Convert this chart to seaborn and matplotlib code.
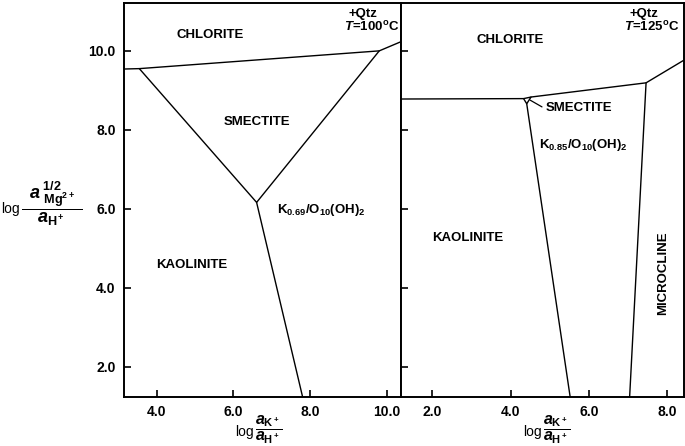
import pandas as pd
import seaborn as sns
import matplotlib.pyplot as plt

# phase boundaries, T = 100 C
left_chl_x = [3.15, 3.55, 9.81, 10.37]
left_chl_y = [9.54, 9.55, 10.0, 10.23]
left_sme_x = [3.55, 6.61, 9.81]
left_sme_y = [9.55, 6.16, 10.0]
left_kao_x = [6.61, 7.81]
left_kao_y = [6.16, 1.23]

# T = 125 C
right_chl_x = [1.19, 4.33, 4.52, 7.46, 8.42]
right_chl_y = [8.78, 8.79, 8.83, 9.19, 9.76]
right_sme_x = [4.33, 4.41, 4.52]
right_sme_y = [8.79, 8.66, 8.83]
right_kao_x = [4.41, 5.52]
right_kao_y = [8.66, 1.23]
right_mic_x = [7.46, 7.04]
right_mic_y = [9.19, 1.23]

left_xticks = [4.0, 6.0, 8.0, 10.0]
right_xticks = [2.0, 4.0, 6.0, 8.0]
yticks = [2.0, 4.0, 6.0, 8.0, 10.0]


def segs(*pairs):
    rows = []
    for i, (xs, ys) in enumerate(pairs):
        for j, (x, y) in enumerate(zip(xs, ys)):
            rows.append({'seg': i, 'order': j, 'x': x, 'y': y})
    return pd.DataFrame(rows)


left = segs((left_chl_x, left_chl_y), (left_sme_x, left_sme_y), (left_kao_x, left_kao_y))
right = segs((right_chl_x, right_chl_y), (right_sme_x, right_sme_y),
             (right_kao_x, right_kao_y), (right_mic_x, right_mic_y))

sns.set_style('ticks')
plt.rcParams['font.family'] = ['Liberation Sans', 'DejaVu Sans']
plt.rcParams['text.color'] = 'black'
plt.rcParams['xtick.color'] = 'black'
plt.rcParams['ytick.color'] = 'black'
plt.rcParams['axes.edgecolor'] = 'black'
plt.rcParams['mathtext.fontset'] = 'custom'
plt.rcParams['mathtext.rm'] = 'Liberation Sans:bold'
plt.rcParams['mathtext.it'] = 'Liberation Sans:italic:bold'
plt.rcParams['mathtext.bf'] = 'Liberation Sans:bold'

fig = plt.figure(figsize=(6.85, 4.46), dpi=100)
ax1 = fig.add_axes([0.181, 0.110, 0.404, 0.883])
ax2 = fig.add_axes([0.585, 0.110, 0.413, 0.883])

for ax, df in ((ax1, left), (ax2, right)):
    sns.lineplot(data=df, x='x', y='y', units='seg', estimator=None, sort=False,
                 color='black', linewidth=1.0, ax=ax, legend=False)
    ax.set_xlabel('')
    ax.set_ylabel('')
    ax.set_ylim(1.23, 11.21)
    ax.set_yticks(yticks)
    ax.tick_params(direction='in', length=5, width=1.2, labelsize=10, pad=6)
    for s in ax.spines.values():
        s.set_visible(True)
        s.set_linewidth(1.4)

ax1.set_xlim(3.15, 10.37)
ax1.set_xticks(left_xticks)
ax1.set_xticklabels([f'{v:.1f}' for v in left_xticks], fontweight='bold')
ax1.set_yticklabels([f'{v:.1f}' for v in yticks], fontweight='bold')

ax2.set_xlim(1.19, 8.42)
ax2.set_xticks(right_xticks)
ax2.set_xticklabels([f'{v:.1f}' for v in right_xticks], fontweight='bold')
ax2.set_yticklabels([])

fs = 9.5
kw = dict(fontsize=fs, fontweight='bold')
ax1.text(5.39, 10.4, 'CHLORITE', ha='center', va='center', **kw)
ax1.text(6.63, 8.19, 'SMECTITE', ha='center', va='center', **kw)
ax1.text(7.13, 5.97, r'K$_{0.69}$/O$_{10}$(OH)$_2$', ha='left', va='center', **kw)
ax1.text(4.91, 4.57, 'KAOLINITE', ha='center', va='center', **kw)
ax1.text(9.0, 10.93, '+Qtz', ha='left', va='center', **kw)
ax1.text(10.33, 10.6, r'$T$=100$^{\rm o}$C', ha='right', va='center', **kw)

ax2.text(3.98, 10.27, 'CHLORITE', ha='center', va='center', **kw)
ax2.text(4.9, 8.54, 'SMECTITE', ha='left', va='center', **kw)
ax2.plot([4.8, 4.5], [8.58, 8.75], color='black', linewidth=0.9)
ax2.text(4.73, 7.61, r'K$_{0.85}$/O$_{10}$(OH)$_2$', ha='left', va='center', **kw)
ax2.text(2.9, 5.25, 'KAOLINITE', ha='center', va='center', **kw)
ax2.text(7.9, 4.36, 'MICROCLINE', ha='center', va='center', rotation=90, **kw)
ax2.text(7.04, 10.93, '+Qtz', ha='left', va='center', **kw)
ax2.text(8.3, 10.6, r'$T$=125$^{\rm o}$C', ha='right', va='center', **kw)

# axis labels: small "log" followed by a larger fraction
xfrac = r'$\dfrac{a_{\rm K^+}}{a_{\rm H^+}}$'
for cx in (257, 545):
    fig.text((cx - 3) / 685, 1 - 432 / 446, 'log', ha='right', va='center', fontsize=10)
    fig.text((cx - 2) / 685, 1 - 430 / 446, xfrac, ha='left', va='center', fontsize=11.5)

fig.text(1 / 685, 1 - 209 / 446, 'log', ha='left', va='center', fontsize=10)
fig.text(21 / 685, 1 - 204 / 446, r'$\dfrac{\;\;a^{\,1/2}_{\ \rm Mg^{2+}}\;}{a_{\rm H^+}}$',
         ha='left', va='center', fontsize=13)

fig.savefig('out.png', dpi=100)
